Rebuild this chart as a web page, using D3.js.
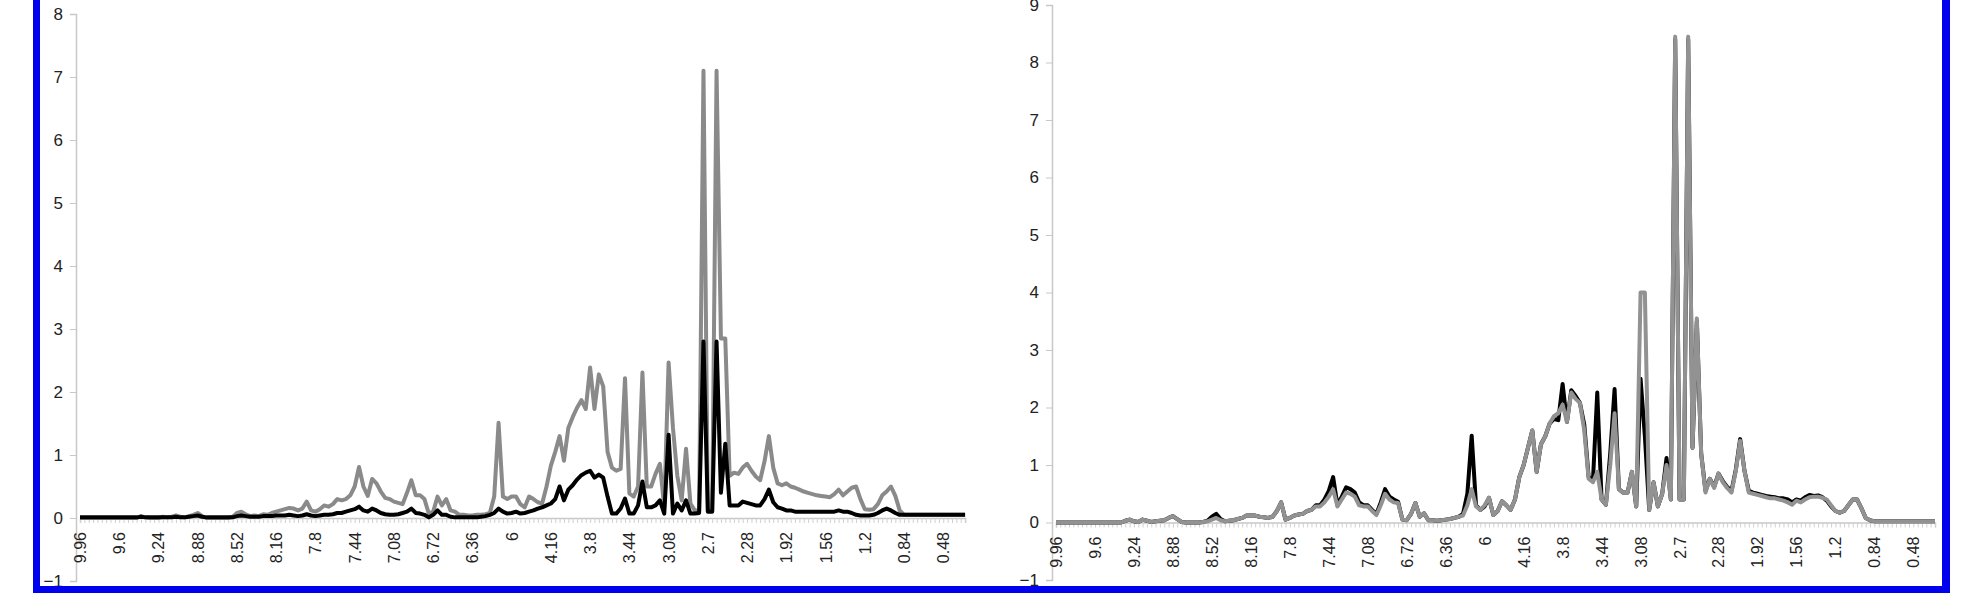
<!DOCTYPE html>
<html>
<head>
<meta charset="utf-8">
<script src="https://cdn.jsdelivr.net/npm/d3@7"></script>
<style>
body { margin: 0; background: #fff; }
text { font-family: "Liberation Sans", Arial, sans-serif; fill: #222; }
</style>
</head>
<body>
<svg width="1971" height="593"></svg>
<script>
// tick labels, one every 9 categories
var tickLabels = ["9.96","9.6","9.24","8.88","8.52","8.16","7.8","7.44","7.08","6.72","6.36","6",
  "4.16","3.8","3.44","3.08","2.7","2.28","1.92","1.56","1.2","0.84","0.48"];
var nPoints = 204;
var categories = d3.range(nPoints);

// left panel series
var leftGray = [
 0,0,0,0,0,0,0,0,0,0,
 0,0,0,0,0.03,0.01,0,0,0,0.02,
 0.01,0.02,0.04,0.02,0.01,0.03,0.05,0.08,0.03,0,
 0,0,0,0,0,0.02,0.08,0.1,0.06,0.03,
 0.04,0.03,0.06,0.05,0.08,0.1,0.12,0.14,0.16,0.15,
 0.12,0.15,0.26,0.12,0.1,0.14,0.2,0.18,0.22,0.3,
 0.28,0.3,0.36,0.5,0.81,0.5,0.35,0.62,0.55,0.42,
 0.32,0.3,0.26,0.24,0.22,0.4,0.6,0.36,0.36,0.3,
 0.07,0.1,0.34,0.2,0.3,0.12,0.1,0.05,0.05,0.04,
 0.04,0.05,0.05,0.06,0.08,0.34,1.51,0.34,0.3,0.34,
 0.34,0.22,0.17,0.34,0.3,0.25,0.23,0.5,0.83,1.05,
 1.3,0.91,1.43,1.6,1.75,1.87,1.73,2.39,1.73,2.28,
 2.09,1.05,0.8,0.75,0.78,2.22,0.39,0.34,0.5,2.31,
 0.5,0.5,0.7,0.86,0.17,2.47,1.43,0.67,0.28,1.1,
 0.23,0.12,0.12,7.1,0.12,0.12,7.1,2.85,2.85,0.67,
 0.72,0.7,0.8,0.86,0.75,0.66,0.6,0.9,1.3,0.8,
 0.55,0.52,0.55,0.5,0.48,0.45,0.42,0.4,0.38,0.36,
 0.35,0.34,0.33,0.38,0.45,0.36,0.42,0.48,0.5,0.3,
 0.14,0.13,0.14,0.22,0.36,0.42,0.5,0.35,0.12,0.05,
 0.05,0.05,0.05,0.05,0.05,0.05,0.05,0.05,0.05,0.05,
 0.05,0.05,0.05,0.05
];
var leftBlack = [
 0.01,0.01,0.01,0.01,0.01,0.01,0.01,0.01,0.01,0.01,
 0.01,0.01,0.01,0.01,0.02,0.01,0.01,0.01,0.01,0.01,
 0.01,0.01,0.02,0.01,0.01,0.02,0.03,0.04,0.02,0.01,
 0.01,0.01,0.01,0.01,0.01,0.01,0.03,0.04,0.03,0.02,
 0.02,0.02,0.03,0.03,0.03,0.04,0.04,0.04,0.05,0.04,
 0.03,0.04,0.06,0.04,0.03,0.04,0.05,0.05,0.06,0.08,
 0.08,0.1,0.12,0.14,0.18,0.12,0.1,0.15,0.12,0.08,
 0.06,0.05,0.05,0.06,0.08,0.1,0.15,0.08,0.07,0.05,
 0.01,0.05,0.12,0.05,0.05,0.02,0.01,0.01,0.01,0.01,
 0.01,0.01,0.02,0.03,0.05,0.08,0.15,0.1,0.07,0.08,
 0.1,0.07,0.08,0.1,0.12,0.15,0.17,0.2,0.23,0.3,
 0.5,0.28,0.45,0.52,0.61,0.68,0.72,0.75,0.64,0.69,
 0.64,0.34,0.07,0.07,0.15,0.31,0.07,0.07,0.2,0.58,
 0.17,0.17,0.2,0.28,0.07,1.32,0.07,0.23,0.12,0.28,
 0.07,0.07,0.08,2.8,0.1,0.1,2.8,0.4,1.18,0.2,
 0.2,0.2,0.26,0.24,0.22,0.2,0.2,0.3,0.45,0.25,
 0.17,0.15,0.12,0.12,0.1,0.1,0.1,0.1,0.1,0.1,
 0.1,0.1,0.1,0.1,0.12,0.1,0.1,0.08,0.05,0.04,
 0.04,0.04,0.05,0.08,0.12,0.15,0.12,0.08,0.05,0.05,
 0.05,0.05,0.05,0.05,0.05,0.05,0.05,0.05,0.05,0.05,
 0.05,0.05,0.05,0.05
];

// right panel series
var rightGray = [
 0,0,0,0,0,0,0,0,0,0,
 0,0,0,0,0,0,0.03,0.05,0.02,0.01,
 0.05,0.03,0.01,0.02,0.03,0.04,0.08,0.11,0.06,0.01,
 0,0,0,0,0.01,0.02,0.05,0.08,0.04,0.02,
 0.03,0.04,0.06,0.08,0.12,0.12,0.12,0.1,0.09,0.08,
 0.1,0.2,0.35,0.05,0.08,0.12,0.14,0.15,0.2,0.22,
 0.28,0.28,0.35,0.45,0.58,0.28,0.4,0.52,0.5,0.45,
 0.3,0.28,0.28,0.2,0.13,0.3,0.5,0.4,0.35,0.34,
 0.05,0.04,0.15,0.34,0.1,0.16,0.04,0.04,0.03,0.04,
 0.05,0.06,0.08,0.1,0.12,0.3,0.58,0.28,0.22,0.3,
 0.43,0.13,0.2,0.37,0.3,0.22,0.4,0.79,1.0,1.3,
 1.6,0.88,1.36,1.5,1.72,1.85,1.9,2.05,1.75,2.26,
 2.15,2.08,1.6,0.76,0.7,0.88,0.4,0.31,1.0,1.9,
 0.58,0.52,0.52,0.88,0.28,4.0,4.0,0.22,0.7,0.28,
 0.5,1.0,0.4,8.45,0.4,0.4,8.45,1.3,3.55,1.2,
 0.52,0.76,0.6,0.85,0.7,0.6,0.52,0.9,1.42,0.9,
 0.52,0.5,0.48,0.46,0.44,0.42,0.42,0.4,0.38,0.35,
 0.31,0.38,0.35,0.4,0.44,0.45,0.45,0.43,0.4,0.3,
 0.2,0.17,0.2,0.3,0.4,0.4,0.25,0.08,0.04,0.02,
 0.02,0.02,0.02,0.02,0.02,0.02,0.02,0.02,0.02,0.02,
 0.02,0.02,0.02,0.02
];
var rightBlack = [
 0,0,0,0,0,0,0,0,0,0,
 0,0,0,0,0,0,0.03,0.05,0.02,0.01,
 0.05,0.03,0.01,0.02,0.03,0.04,0.08,0.11,0.06,0.01,
 0,0,0,0,0.01,0.03,0.1,0.15,0.06,0.02,
 0.03,0.04,0.06,0.08,0.12,0.12,0.12,0.1,0.09,0.08,
 0.1,0.2,0.35,0.05,0.08,0.12,0.14,0.15,0.2,0.22,
 0.3,0.3,0.4,0.55,0.79,0.3,0.45,0.61,0.58,0.52,
 0.35,0.3,0.3,0.22,0.15,0.35,0.58,0.45,0.4,0.36,
 0.05,0.04,0.15,0.34,0.1,0.16,0.04,0.04,0.03,0.04,
 0.05,0.06,0.08,0.1,0.15,0.5,1.51,0.3,0.22,0.28,
 0.43,0.13,0.2,0.37,0.3,0.22,0.4,0.79,1.0,1.3,
 1.6,0.88,1.36,1.5,1.72,1.8,1.78,2.41,1.75,2.3,
 2.2,2.08,1.7,0.8,0.72,2.26,0.4,0.31,1.2,2.32,
 0.58,0.52,0.52,0.88,0.28,2.5,1.5,0.22,0.7,0.28,
 0.5,1.12,0.4,8.4,0.4,0.4,8.4,1.3,3.5,1.2,
 0.55,0.76,0.62,0.85,0.72,0.62,0.55,0.92,1.45,0.9,
 0.55,0.52,0.5,0.48,0.46,0.45,0.44,0.42,0.42,0.4,
 0.35,0.4,0.38,0.44,0.48,0.46,0.47,0.44,0.38,0.28,
 0.2,0.17,0.2,0.3,0.4,0.4,0.25,0.08,0.04,0.02,
 0.02,0.02,0.02,0.02,0.02,0.02,0.02,0.02,0.02,0.02,
 0.02,0.02,0.02,0.02
];

var svg = d3.select("svg");

function panel(opt) {
  var x = d3.scalePoint().domain(categories).range([opt.x0, opt.x0 + opt.step * (nPoints - 1)]);
  var y = d3.scaleLinear().domain([-1, opt.ymax]).range([opt.yBottom, opt.yTop]);
  var g = svg.append("g");

  // y axis
  var yAxis = d3.axisLeft(y).ticks(opt.ymax + 1).tickSize(6).tickPadding(7).tickFormat(d3.format("d"));
  var ya = g.append("g").attr("transform", "translate(" + opt.axisX + ",0)").call(yAxis);
  ya.select(".domain").attr("stroke", "#c8c8c8").attr("stroke-width", 1.5);
  ya.selectAll(".tick line").attr("stroke", "#c8c8c8");
  ya.selectAll("text").style("font-size", "17px").attr("fill", "#222");

  // x axis at y = 0, minor tick at every category
  var xAxis = d3.axisBottom(x).tickSize(5).tickFormat("");
  var xa = g.append("g").attr("transform", "translate(0," + y(0) + ")").call(xAxis);
  xa.select(".domain").attr("stroke", "#c8c8c8").attr("stroke-width", 1.5);
  xa.selectAll(".tick line").attr("stroke", "#d0d0d0");

  g.selectAll(".xl").data(tickLabels).enter().append("text")
    .attr("transform", function (d, i) { return "translate(" + (x(i * 9) + 6) + "," + (y(0) + 14) + ") rotate(-90)"; })
    .attr("text-anchor", "end")
    .style("font-size", "16px")
    .text(function (d) { return d; });

  var line = d3.line().x(function (d, i) { return x(i); }).y(function (d) { return y(d); });
  opt.series.forEach(function (s) {
    g.append("path").datum(s.values)
      .attr("fill", "none").attr("stroke", s.color).attr("stroke-width", 4)
      .attr("stroke-linejoin", "round").attr("d", line);
  });
}

panel({ x0: 80, step: 4.36, axisX: 76, ymax: 8, yTop: 14, yBottom: 581,
  series: [{ values: leftGray, color: "#8a8a8a" }, { values: leftBlack, color: "#000" }] });
panel({ x0: 1056, step: 4.33, axisX: 1052, ymax: 9, yTop: 5, yBottom: 580,
  series: [{ values: rightBlack, color: "#000" }, { values: rightGray, color: "#929292" }] });

// blue frame
svg.append("rect").attr("x", 33).attr("y", 0).attr("width", 7).attr("height", 593).attr("fill", "#0000ee");
svg.append("rect").attr("x", 1942).attr("y", 0).attr("width", 8).attr("height", 593).attr("fill", "#0000ee");
svg.append("rect").attr("x", 33).attr("y", 586).attr("width", 1917).attr("height", 7).attr("fill", "#0000ee");
</script>
</body>
</html>
